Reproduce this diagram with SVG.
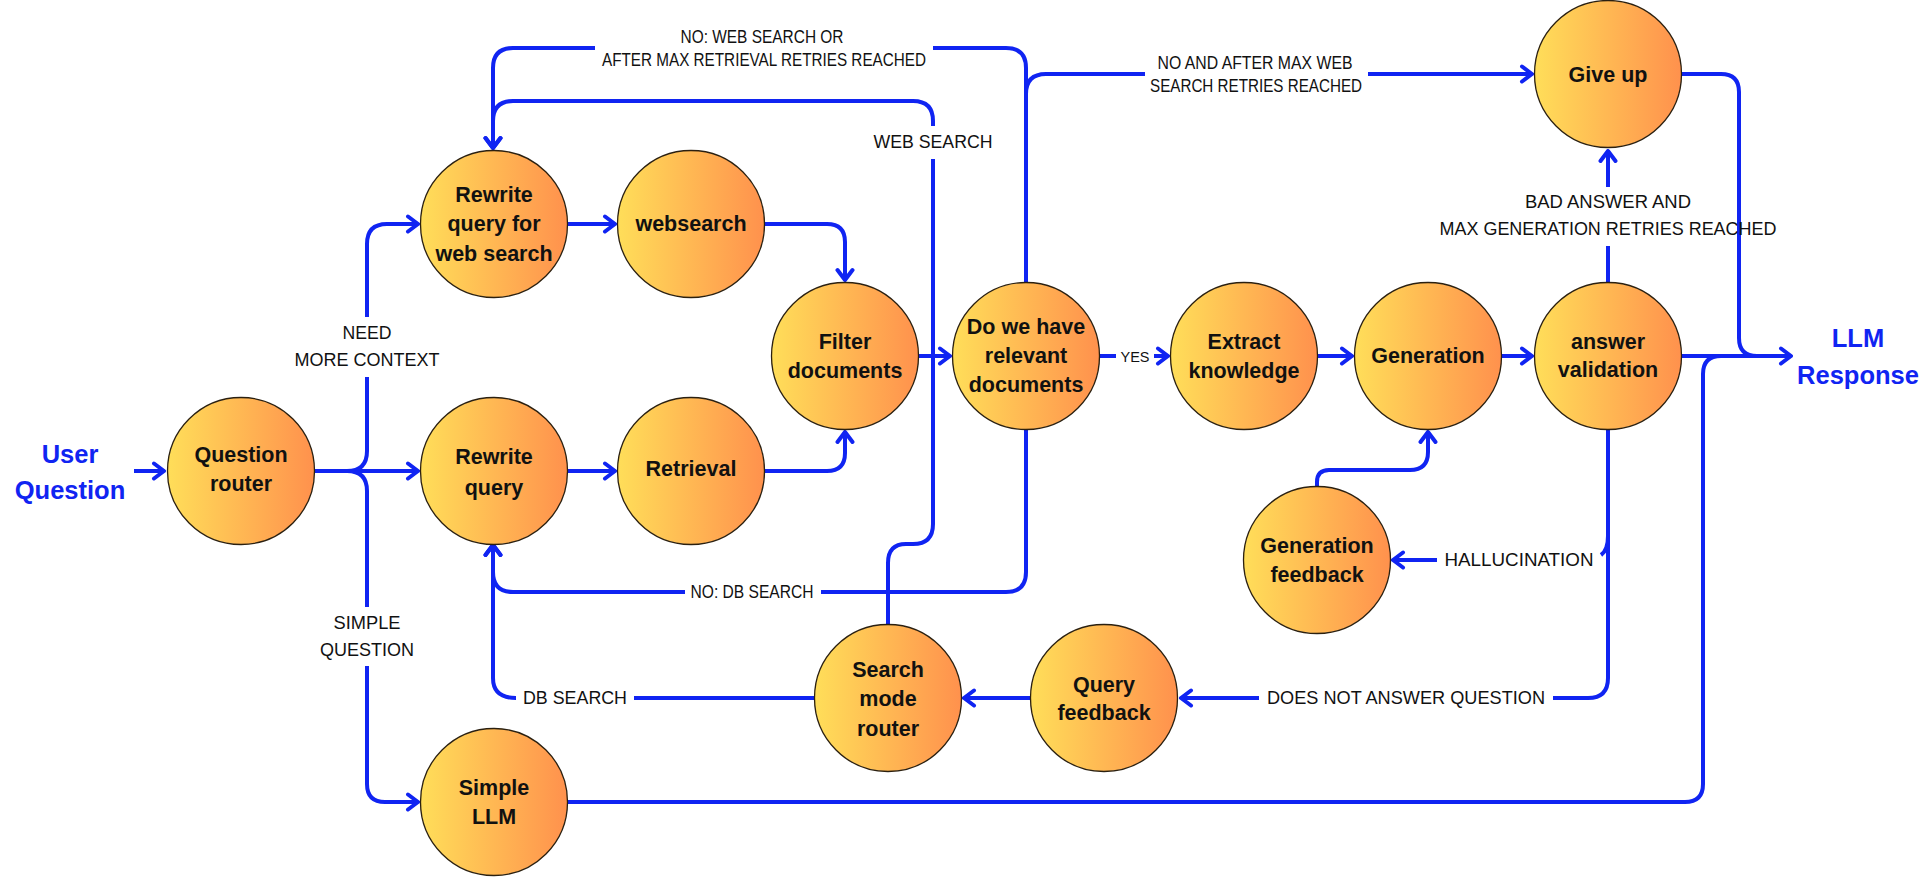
<svg xmlns="http://www.w3.org/2000/svg" width="1929" height="878" viewBox="0 0 1929 878">
<style>
.c{stroke:#1024f2;stroke-width:4;fill:none;stroke-linecap:butt;stroke-linejoin:round}
.a{marker-end:url(#ah)}
.nd{fill:url(#g);stroke:#2b2010;stroke-width:1.3}
.n{font-family:"Liberation Sans",Arial,sans-serif;font-weight:bold;font-size:21.5px;fill:#111;text-anchor:middle}
.l{font-family:"Liberation Sans",Arial,sans-serif;font-size:18px;fill:#111;text-anchor:middle}
.io{font-family:"Liberation Sans",Arial,sans-serif;font-weight:bold;font-size:25.5px;fill:#1024f2;text-anchor:middle}
</style>
<defs>
<linearGradient id="g" x1="0" y1="0" x2="1" y2="0">
<stop offset="0" stop-color="#FFDE59"/>
<stop offset="1" stop-color="#FF914D"/>
</linearGradient>
<marker id="ah" markerUnits="userSpaceOnUse" viewBox="-14 -10 16 20" markerWidth="16" markerHeight="20" refX="0" refY="0" orient="auto">
<path d="M-10,-7.5 L0,0 L-10,7.5" fill="none" stroke="#1024f2" stroke-width="4" stroke-linecap="round" stroke-linejoin="round"/>
</marker>
</defs>
<rect width="1929" height="878" fill="#fff"/>

<g id="connectors">
<path class="c a" d="M134,471 L164,471"/>
<path class="c a" d="M315,471 L418,471"/>
<path class="c a" d="M347,471 Q367,471 367,451 L367,377 M367,317 L367,244 Q367,224 387,224 L418,224"/>
<path class="c a" d="M347,471 Q367,471 367,491 L367,607 M367,666 L367,784 Q367,802 385,802 L418,802"/>
<path class="c a" d="M567,224 L615,224"/>
<path class="c a" d="M765,224 L827,224 Q845,224 845,242 L845,280"/>
<path class="c a" d="M567,471 L615,471"/>
<path class="c a" d="M765,471 L827,471 Q845,471 845,453 L845,432"/>
<path class="c a" d="M919,356 L950,356"/>
<path class="c a" d="M1099,356 L1116,356 M1154,356 L1168,356"/>
<path class="c a" d="M1317,356 L1352,356"/>
<path class="c a" d="M1501,356 L1532,356"/>
<path class="c a" d="M1682,356 L1791,356"/>
<path class="c" d="M1682,74 L1721,74 Q1739,74 1739,92 L1739,338 Q1739,356 1757,356 L1780,356"/>
<path class="c" d="M567,802 L1685,802 Q1703,802 1703,784 L1703,374 Q1703,356 1721,356 L1760,356"/>
<path class="c a" d="M1608,282 L1608,246 M1608,187 L1608,151"/>
<path class="c a" d="M1026,282 L1026,94 Q1026,74 1046,74 L1145,74 M1368,74 L1532,74"/>
<path class="c a" d="M1026,100 L1026,68 Q1026,48 1006,48 L933,48 M595,48 L513,48 Q493,48 493,68 L493,148"/>
<path class="c a" d="M888,625 L888,563 Q888,544 906,544 L913,544 Q933,544 933,524 L933,159 M933,126 L933,121 Q933,101 913,101 L513,101 Q493,101 493,121 L493,148"/>
<path class="c a" d="M1026,430 L1026,572 Q1026,592 1006,592 L821,592 M685,592 L513,592 Q493,592 493,572 L493,545"/>
<path class="c a" d="M814,698 L634,698 M516,698 Q493,698 493,678 L493,545"/>
<path class="c a" d="M1608,430 L1608,678 Q1608,698 1588,698 L1553,698 M1259,698 L1181,698"/>
<path class="c" d="M1608,536 Q1608,550 1601,555"/>
<path class="c a" d="M1437,560 L1393,560"/>
<path class="c a" d="M1317,486 L1317,482 Q1317,470 1329,470 L1410,470 Q1428,470 1428,452 L1428,432"/>
<path class="c a" d="M1031,698 L964,698"/>
<text class="l" x="762" y="43" textLength="163" lengthAdjust="spacingAndGlyphs">NO: WEB SEARCH OR</text>
<text class="l" x="764" y="66" textLength="324" lengthAdjust="spacingAndGlyphs">AFTER MAX RETRIEVAL RETRIES REACHED</text>
<text class="l" x="933" y="148" textLength="119" lengthAdjust="spacingAndGlyphs">WEB SEARCH</text>
<text class="l" x="1255" y="69" textLength="195" lengthAdjust="spacingAndGlyphs">NO AND AFTER MAX WEB</text>
<text class="l" x="1256" y="92" textLength="212" lengthAdjust="spacingAndGlyphs">SEARCH RETRIES REACHED</text>
<text class="l" x="367" y="339" textLength="49" lengthAdjust="spacingAndGlyphs">NEED</text>
<text class="l" x="367" y="366" textLength="145" lengthAdjust="spacingAndGlyphs">MORE CONTEXT</text>
<text class="l" x="367" y="629" textLength="67" lengthAdjust="spacingAndGlyphs">SIMPLE</text>
<text class="l" x="367" y="656" textLength="94" lengthAdjust="spacingAndGlyphs">QUESTION</text>
<text class="l" x="1135" y="362" style="font-size:15px" textLength="29" lengthAdjust="spacingAndGlyphs">YES</text>
<text class="l" x="1608" y="208" textLength="166" lengthAdjust="spacingAndGlyphs">BAD ANSWER AND</text>
<text class="l" x="1608" y="235" textLength="337" lengthAdjust="spacingAndGlyphs">MAX GENERATION RETRIES REACHED</text>
<text class="l" x="1519" y="566" textLength="149" lengthAdjust="spacingAndGlyphs">HALLUCINATION</text>
<text class="l" x="752" y="598" textLength="123" lengthAdjust="spacingAndGlyphs">NO: DB SEARCH</text>
<text class="l" x="575" y="704" textLength="104" lengthAdjust="spacingAndGlyphs">DB SEARCH</text>
<text class="l" x="1406" y="704" textLength="278" lengthAdjust="spacingAndGlyphs">DOES NOT ANSWER QUESTION</text>
</g>

<g id="user-question"><text class="io" x="70" y="463">User</text><text class="io" x="70" y="499">Question</text></g>
<g id="llm-response"><text class="io" x="1858" y="347">LLM</text><text class="io" x="1858" y="384">Response</text></g>

<g id="question-router"><circle class="nd" cx="241" cy="471" r="73.5"/><text class="n" x="241" y="462">Question</text><text class="n" x="241" y="491">router</text></g>
<g id="rewrite-web"><circle class="nd" cx="494" cy="224" r="73.5"/><text class="n" x="494" y="202">Rewrite</text><text class="n" x="494" y="231">query for</text><text class="n" x="494" y="261">web search</text></g>
<g id="websearch"><circle class="nd" cx="691" cy="224" r="73.5"/><text class="n" x="691" y="231">websearch</text></g>
<g id="filter-documents"><circle class="nd" cx="845" cy="356" r="73.5"/><text class="n" x="845" y="349">Filter</text><text class="n" x="845" y="378">documents</text></g>
<g id="relevant-documents"><circle class="nd" cx="1026" cy="356" r="73.5"/><text class="n" x="1026" y="334">Do we have</text><text class="n" x="1026" y="363">relevant</text><text class="n" x="1026" y="392">documents</text></g>
<g id="extract-knowledge"><circle class="nd" cx="1244" cy="356" r="73.5"/><text class="n" x="1244" y="349">Extract</text><text class="n" x="1244" y="378">knowledge</text></g>
<g id="generation"><circle class="nd" cx="1428" cy="356" r="73.5"/><text class="n" x="1428" y="363">Generation</text></g>
<g id="answer-validation"><circle class="nd" cx="1608" cy="356" r="73.5"/><text class="n" x="1608" y="349">answer</text><text class="n" x="1608" y="377">validation</text></g>
<g id="give-up"><circle class="nd" cx="1608" cy="74" r="73.5"/><text class="n" x="1608" y="82">Give up</text></g>
<g id="rewrite-query"><circle class="nd" cx="494" cy="471" r="73.5"/><text class="n" x="494" y="464">Rewrite</text><text class="n" x="494" y="495">query</text></g>
<g id="retrieval"><circle class="nd" cx="691" cy="471" r="73.5"/><text class="n" x="691" y="476">Retrieval</text></g>
<g id="generation-feedback"><circle class="nd" cx="1317" cy="560" r="73.5"/><text class="n" x="1317" y="553">Generation</text><text class="n" x="1317" y="582">feedback</text></g>
<g id="search-mode-router"><circle class="nd" cx="888" cy="698" r="73.5"/><text class="n" x="888" y="677">Search</text><text class="n" x="888" y="706">mode</text><text class="n" x="888" y="736">router</text></g>
<g id="query-feedback"><circle class="nd" cx="1104" cy="698" r="73.5"/><text class="n" x="1104" y="692">Query</text><text class="n" x="1104" y="720">feedback</text></g>
<g id="simple-llm"><circle class="nd" cx="494" cy="802" r="73.5"/><text class="n" x="494" y="795">Simple</text><text class="n" x="494" y="824">LLM</text></g>
</svg>
